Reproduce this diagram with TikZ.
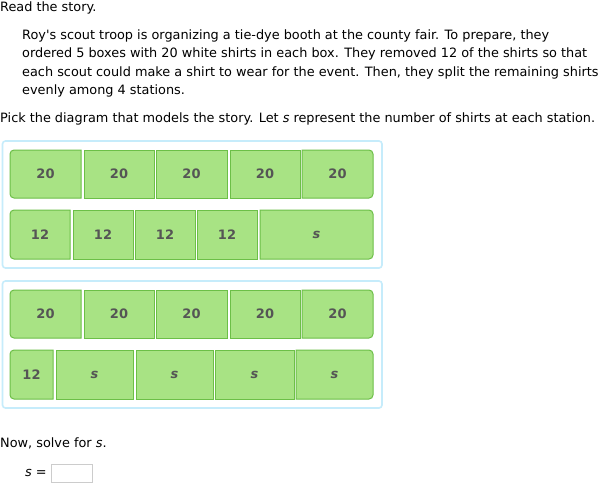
\documentclass[tikz,border=0pt]{standalone}
\usepackage{fontspec}
\setmainfont{DejaVu Sans}[Ligatures=NoCommon]
\definecolor{barfill}{HTML}{A8E384}
\definecolor{barline}{HTML}{6CBF47}
\definecolor{numcol}{HTML}{555555}
\definecolor{framecol}{HTML}{C6ECFB}
\definecolor{inputcol}{HTML}{CCCCCC}
\tikzset{
  txt/.style={anchor=base west, inner sep=0pt, font=\fontsize{12.85}{15}\selectfont, text=black},
  num/.style={inner sep=0pt, font=\fontsize{13}{15}\selectfont\bfseries, text=numcol},
  bar/.style={fill=barfill, draw=barline, line width=1pt},
  frame/.style={draw=framecol, line width=1.6pt, rounded corners=3pt, fill=white},
}
\newcommand\midbar[4]{\draw[bar] (#1,#3) -- (#2,#3) -- (#2,#4) -- (#1,#4) -- cycle;}
\newcommand\leftbar[4]{\draw[bar] (#2,#3) [rounded corners=4pt] -- (#1,#3) -- (#1,#4) [sharp corners] -- (#2,#4) -- cycle;}
\newcommand\rightbar[4]{\draw[bar] (#1,#3) [rounded corners=4pt] -- (#2,#3) -- (#2,#4) [sharp corners] -- (#1,#4) -- cycle;}
\begin{document}
\begin{tikzpicture}[x=1pt,y=-1pt]
\useasboundingbox[fill=white] (0,0) rectangle (600,483);
% text
\node[txt] (t0) at (0,11) {Read the story.};
\node[txt] (t1) at (22,39) {Roy\textquotesingle s scout troop is organizing a tie-dye booth at the county fair. To prepare, they};
\node[txt] (t2) at (22,57.5) {ordered 5 boxes with 20 white shirts in each box. They removed 12 of the shirts so that};
\node[txt] (t3) at (22,76) {each scout could make a shirt to wear for the event. Then, they split the remaining shirts};
\node[txt] (t4) at (22,94.5) {evenly among 4 stations.};
\node[txt] (t5) at (0,122) {Pick the diagram that models the story. Let \textit{s} represent the number of shirts at each station.};
% diagram 1
\draw[frame] (2.5,141) rectangle (382,268);
\leftbar{10}{81}{150}{198}
\midbar{84}{154}{150}{198}
\midbar{156}{227}{150}{198}
\midbar{230}{300}{150}{198}
\rightbar{302}{373}{150}{198}
\node[num] (a1) at (45.5,174) {20};
\node[num] (a2) at (119,174) {20};
\node[num] (a3) at (191.5,174) {20};
\node[num] (a4) at (265,174) {20};
\node[num] (a5) at (337.5,174) {20};
\leftbar{10}{70}{210}{259}
\midbar{73}{133}{210}{259}
\midbar{135}{195}{210}{259}
\midbar{197}{257}{210}{259}
\rightbar{260}{373}{210}{259}
\node[num] (b1) at (40,235) {12};
\node[num] (b2) at (103,235) {12};
\node[num] (b3) at (165,235) {12};
\node[num] (b4) at (227,235) {12};
\node[num] (b5) at (316.5,235) {\itshape s};
% diagram 2
\draw[frame] (2.5,281) rectangle (382,408);
\leftbar{10}{81}{290}{338}
\midbar{84}{154}{290}{338}
\midbar{156}{227}{290}{338}
\midbar{230}{300}{290}{338}
\rightbar{302}{373}{290}{338}
\node[num] (c1) at (45.5,314) {20};
\node[num] (c2) at (119,314) {20};
\node[num] (c3) at (191.5,314) {20};
\node[num] (c4) at (265,314) {20};
\node[num] (c5) at (337.5,314) {20};
\leftbar{10}{53}{350}{399}
\midbar{56}{133}{350}{399}
\midbar{136}{213}{350}{399}
\midbar{215}{294}{350}{399}
\rightbar{296}{373}{350}{399}
\node[num] (d1) at (31.5,375) {12};
\node[num] (d2) at (94.5,375) {\itshape s};
\node[num] (d3) at (174.5,375) {\itshape s};
\node[num] (d4) at (254.5,375) {\itshape s};
\node[num] (d5) at (334.5,375) {\itshape s};
% solve
\node[txt] (t6) at (0,447) {Now, solve for \textit{s}.};
\node[txt] (t7) at (25,476) {\textit{s} =};
\node[draw=inputcol, line width=0.8pt, minimum width=41pt, minimum height=18pt, inner sep=0pt, anchor=north west] (ans) at (51,464) {};
\end{tikzpicture}
\end{document}
